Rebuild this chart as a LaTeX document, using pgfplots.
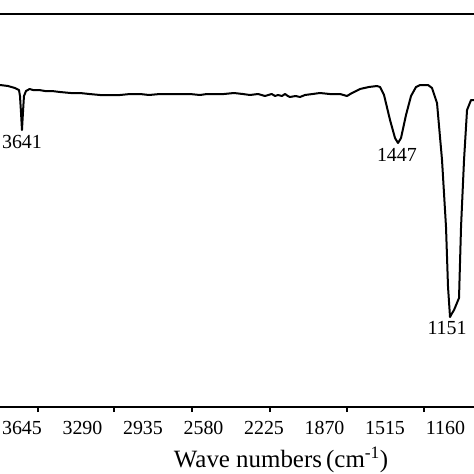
\documentclass[border=0pt]{standalone}
\usepackage{fontspec}
\setmainfont{Liberation Serif}
\usepackage{pgfplots}
\pgfplotsset{compat=1.18}

\begin{document}
\begin{tikzpicture}
\begin{axis}[
    scale only axis,
    width=474bp, height=393bp,
    x dir=reverse,
    xmin=993, xmax=3774,
    ymin=0, ymax=393,
    axis line style={draw=none},
    ytick=\empty,
    xtick={3645,3290,2935,2580,2225,1870,1515,1160},
    xticklabels={3645,3290,2935,2580,2225,1870,1515,1160},
    major tick length=0pt,
    xtick pos=left,
    extra x ticks={3551,3105,2647,2190,1738,1286},
    extra x tick labels={},
    extra x tick style={major tick length=5bp, tick align=outside,
        tick style={line width=1.6bp, black}},
    xticklabel style={font=\fontsize{20}{22}\selectfont, yshift=-11bp},
    clip mode=individual,
]
\addplot[black, line width=2bp, line join=round] coordinates {
(3774.1,322) (3727.1,321) (3686.1,319) (3662.6,317) (3656.7,311) (3650.9,295)
(3645.0,277) (3639.1,295) (3633.3,311) (3621.5,316) (3600.0,318) (3580.5,317)
(3545.0,317) (3510.0,316) (3470.0,316) (3422.0,315) (3360.0,314) (3304.7,314)
(3250.0,313) (3187.3,312) (3120.0,312) (3070.0,312) (3010.0,313) (2952.6,313)
(2900.0,312) (2835.3,313) (2770.0,313) (2717.9,313) (2660.0,313) (2600.6,312)
(2560.0,313) (2512.6,313) (2460.0,313) (2401.1,314) (2350.0,313) (2307.2,312)
(2260.0,313) (2219.2,311) (2180.0,313) (2160.0,311) (2142.9,312) (2120.0,311)
(2101.8,313) (2085.0,311) (2072.5,310) (2040.0,311) (2013.8,310) (1984.5,312)
(1940.0,313) (1896.5,314) (1840.0,313) (1779.1,313) (1738.0,311) (1708.7,314)
(1661.7,318) (1610.0,320) (1562.0,321) (1544.4,320) (1520.9,312) (1485.7,287)
(1456.4,269) (1438.8,264) (1421.2,269) (1391.9,292) (1362.5,311) (1333.2,320)
(1309.7,322) (1262.8,322) (1239.3,319) (1210.0,304) (1180.6,247) (1157.2,180)
(1145.4,120) (1133.7,90) (1127.8,92) (1110.2,97) (1080.9,109) (1069.1,180)
(1051.5,247) (1033.9,297) (1010.4,307) (993.0,307)
};
\draw[line width=1.8bp] (rel axis cs:0,0) -- (rel axis cs:1,0);
\draw[line width=1.8bp] (rel axis cs:0,1) -- (rel axis cs:1,1);
\node[font=\fontsize{20}{22}\selectfont] at (axis cs:3645,265) {3641};
\node[font=\fontsize{20}{22}\selectfont] at (axis cs:1445,252) {1447};
\node[font=\fontsize{20}{22}\selectfont] at (axis cs:1151,79) {1151};
\node[anchor=base, font=\fontsize{25}{27}\selectfont]
    at ([yshift=-60bp]rel axis cs:0.593,0) {Wave numbers\,(cm\textsuperscript{-1})};
\coordinate (ll) at (rel axis cs:0,0);
\coordinate (ur) at (rel axis cs:1,1);
\end{axis}
\pgfresetboundingbox
\path[use as bounding box] ([yshift=-67bp]ll) rectangle ([yshift=14bp]ur);
\end{tikzpicture}
\end{document}
